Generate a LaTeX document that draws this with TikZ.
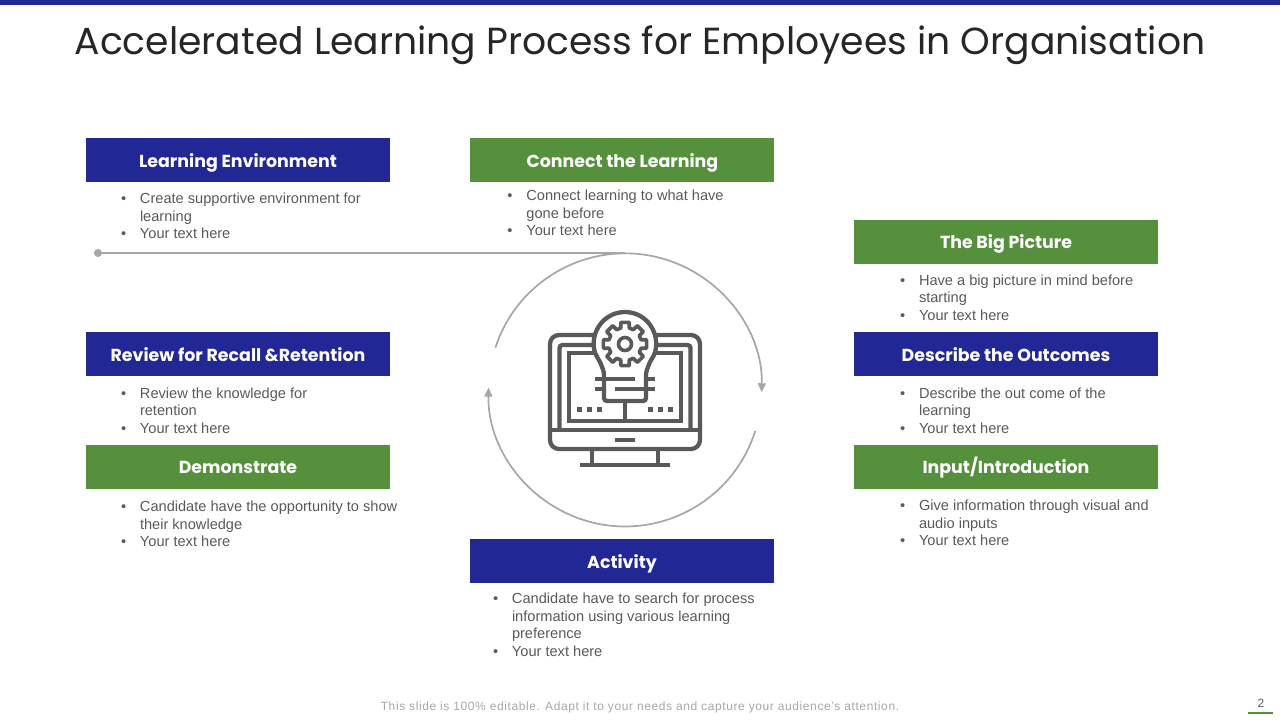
\documentclass[tikz,border=0pt]{standalone}
\usepackage{fontspec}
\setmainfont{Liberation Sans}
\newfontfamily\headfont{Poppins}
\usepackage{xcolor}
\usetikzlibrary{positioning, arrows.meta}
\definecolor{MainBlue}{HTML}{212795}
\definecolor{MainGreen}{HTML}{55913D}
\definecolor{BodyGrey}{HTML}{595959}
\definecolor{RingGrey}{HTML}{A6A6A6}
\definecolor{IconGrey}{HTML}{595959}
\newcommand{\bitem}[1]{\makebox[19pt][l]{\textbullet}#1}
\newcommand{\bcont}[1]{\hspace*{19pt}#1}
\tikzset{
  headbox/.style={minimum width=304pt, minimum height=44pt, inner sep=0pt, text=white, font=\headfont\bfseries\fontsize{17.4}{20}\selectfont, text height=15pt, text depth=1pt},
  bluebox/.style={headbox, fill=MainBlue},
  greenbox/.style={headbox, fill=MainGreen},
  bodytext/.style={inner sep=0pt, align=left, text=BodyGrey, font=\fontsize{14.6}{17.5}\selectfont},
  ringline/.style={draw=RingGrey, line width=1.7pt},
  iconline/.style={draw=IconGrey, line width=4.3pt}
}
\begin{document}
\begin{tikzpicture}[x=1pt, y=1pt]
  \useasboundingbox (0,-720) rectangle (1280,0);
  \fill[MainBlue] (0,-5) rectangle (1280,0);
  \node (title) at (640,-45) [inner sep=0pt, text=black!85, font=\headfont\fontsize{37.7}{44}\selectfont] {Accelerated Learning Process for Employees in Organisation};

  % header boxes
  \node (learn) at (238,-160) [bluebox] {Learning Environment};
  \node (connect) [greenbox, right=80pt of learn] {Connect the Learning};
  \node (review) [bluebox, below=150pt of learn] {Review for Recall \&Retention};
  \node (demo) [greenbox, below=68pt of review] {Demonstrate};
  \node (big) at (1006,-241.5) [greenbox] {The Big Picture};
  \node (outcomes) [bluebox, below=68.5pt of big] {Describe the Outcomes};
  \node (input) [greenbox, below=68pt of outcomes] {Input/Introduction};
  \node (activity) at (622,-561) [bluebox] {Activity};

  % bullet texts
  \node (learntxt) [bodytext, below right=11pt and 35pt of learn.south west] {\bitem{Create supportive environment for}\\\bcont{learning}\\\bitem{Your text here}};
  \node (connecttxt) [bodytext, below right=8pt and 37pt of connect.south west] {\bitem{Connect learning to what have}\\\bcont{gone before}\\\bitem{Your text here}};
  \node (reviewtxt) [bodytext, below right=11pt and 35pt of review.south west] {\bitem{Review the knowledge for}\\\bcont{retention}\\\bitem{Your text here}};
  \node (demotxt) [bodytext, below right=12pt and 35pt of demo.south west] {\bitem{Candidate have the opportunity to show}\\\bcont{their knowledge}\\\bitem{Your text here}};
  \node (bigtxt) [bodytext, below right=11pt and 46pt of big.south west] {\bitem{Have a big picture in mind before}\\\bcont{starting}\\\bitem{Your text here}};
  \node (outcomestxt) [bodytext, below right=11pt and 46pt of outcomes.south west] {\bitem{Describe the out come of the}\\\bcont{learning}\\\bitem{Your text here}};
  \node (inputtxt) [bodytext, below right=11pt and 46pt of input.south west] {\bitem{Give information through visual and}\\\bcont{audio inputs}\\\bitem{Your text here}};
  \node (activitytxt) [bodytext, below right=10pt and 23pt of activity.south west] {\bitem{Candidate have to search for process}\\\bcont{information using various learning}\\\bcont{preference}\\\bitem{Your text here}};

  % ring and leader line
  \node (dot) at (98,-253) [circle, fill=RingGrey, minimum size=8pt, inner sep=0pt] {};
  \coordinate (ringtop) at (625,-253);
  \draw[ringline] (dot) -- (ringtop);
  \draw[ringline, -{Triangle[length=9pt, width=8pt]}] (495.4,-347.7) arc[start angle=162, end angle=-1, radius=136.5];
  \draw[ringline, -{Triangle[length=9pt, width=8pt]}] (755.2,-431) arc[start angle=-17.5, end angle=-181, radius=136.5];

  % icon
  \draw[iconline, rounded corners=9pt] (550,-430) -- (550,-335) -- (700,-335) -- (700,-449) -- (550,-449) -- cycle;
  \draw[iconline, rounded corners=3pt] (559.5,-430) -- (559.5,-345) -- (690.5,-345) -- (690.5,-430);
  \draw[iconline] (550,-430) -- (700,-430);
  \draw[iconline] (569,-353) rectangle (681,-421);
  \draw[iconline] (615,-440) -- (635,-440);
  \draw[iconline] (592,-451) -- (592,-465) (658,-451) -- (658,-465);
  \draw[iconline] (580,-465) -- (670,-465);
  \draw[iconline, fill=white, rounded corners=3pt] (604,-401) -- (604,-372) -- (599.6,-360.8) arc[start angle=215, end angle=-35, radius=31] -- (646,-372) -- (646,-401) -- cycle;
  \draw[iconline] (595,-379) -- (635,-379) (646,-379) -- (655,-379);
  \draw[iconline] (595,-389) -- (605,-389) (615,-389) -- (655,-389);
  \draw[iconline] (625,-401) -- (625,-421);
  \foreach \dotx in {579,589,599,650,660,670}
    \fill[IconGrey] (\dotx-2.5,-411.5) rectangle (\dotx+2.5,-406.5);
  \begin{scope}[shift={(625,-344)}]
    \draw[iconline, line width=3.6pt, line join=round] (-11:22) \foreach \a in {0,45,...,315} { -- (\a-11:22) -- (\a+11:22) -- (\a+15:16.5) -- (\a+30:16.5)} -- cycle;
    \draw[iconline, line width=3.6pt] (0,0) circle (6.5);
  \end{scope}

  % footer
  \node (footer) at (640,-707) [inner sep=0pt, text=black!35, font=\fontsize{12}{14}\selectfont\addfontfeatures{LetterSpace=5}] {This slide is 100\% editable. Adapt it to your needs and capture your audience's attention.};
  \node (page) at (1261,-703.5) [inner sep=0pt, text=BodyGrey, font=\fontsize{12}{14}\selectfont] {2};
  \coordinate (pagel) at (1248,-713);
  \coordinate (pager) at (1273,-713);
  \draw[MainGreen, line width=1.5pt] (pagel) -- (pager);
\end{tikzpicture}
\end{document}
